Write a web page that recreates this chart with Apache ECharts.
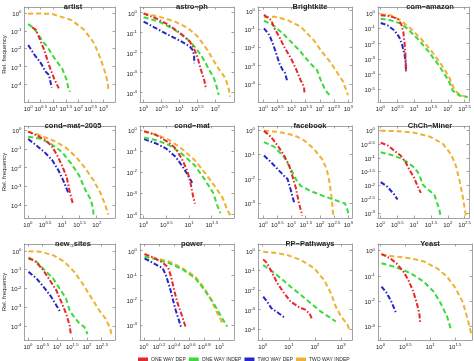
<!DOCTYPE html>
<html><head><meta charset="utf-8">
<script src="https://cdn.jsdelivr.net/npm/echarts@6/dist/echarts.min.js"></script>
<style>html,body{margin:0;padding:0;background:#fff}#c{width:474px;height:361px}</style>
</head><body><div id="c"></div>
<script>
// Panel titles (row-major, 3 rows x 4 columns)
const panelTitles = ['artist','astro\u2212ph','Brightkite','com\u2212amazon',
  'cond\u2212mat\u22122005','cond\u2212mat','facebook','ChCh\u2212Miner',
  'new_sites','power','PP\u2212Pathways','Yeast'];
const seriesNames = ['ONE WAY DEP','ONE WAY INDEP','TWO WAY DEP','TWO WAY INDEP'];

// Data points as [log10(value on x axis), log10(Rel. frequency)], one list per panel
const oneWayDep = [
  [[0.16,-0.81],[0.32,-0.96],[0.45,-1.42],[0.64,-2.07],[0.83,-2.91],[1.03,-3.65],[1.22,-4.2]],
  [[0,-0.05],[0.34,-0.28],[0.7,-0.62],[1.02,-1.03],[1.29,-1.45],[1.42,-1.87],[1.51,-2.28],[1.6,-2.87],[1.69,-3.37],[1.74,-3.83]],
  [[0.03,-0.23],[0.28,-0.51],[0.4,-0.96],[0.57,-1.42],[0.74,-1.97],[0.98,-2.6],[1.15,-3.15],[1.32,-3.79],[1.44,-4.15],[1.46,-4.55]],
  [[0.01,-0.15],[0.26,-0.2],[0.51,-0.37],[0.62,-0.74],[0.68,-1.24],[0.72,-2],[0.75,-2.98],[0.76,-3.86]],
  [[0.01,-0.09],[0.24,-0.27],[0.52,-0.54],[0.71,-0.9],[0.85,-1.34],[0.99,-1.88],[1.13,-2.51],[1.22,-3.31],[1.31,-3.94]],
  [[0.01,-0.05],[0.28,-0.24],[0.53,-0.56],[0.71,-0.88],[0.84,-1.36],[0.96,-1.92],[1.03,-2.49],[1.09,-3.13],[1.13,-3.48]],
  [[0.03,-0.03],[0.28,-0.28],[0.51,-0.63],[0.74,-1.04],[0.92,-1.46],[1.03,-1.88],[1.15,-2.36],[1.26,-2.99],[1.38,-3.51]],
  [[0.01,-0.45],[0.21,-0.55],[0.41,-0.74],[0.6,-0.92],[0.75,-1.16],[0.85,-1.41],[1,-1.72],[1.1,-2.02],[1.2,-2.27]],
  [[0.02,-0.41],[0.24,-0.53],[0.52,-1.03],[0.74,-1.56],[0.96,-2.09],[1.13,-2.71],[1.29,-3.33],[1.41,-3.95],[1.46,-4.48]],
  [[0.01,-0.13],[0.12,-0.27],[0.25,-0.48],[0.32,-0.67],[0.36,-1.05],[0.4,-1.58],[0.44,-2.06],[0.5,-2.59],[0.55,-3.06]],
  [[0.02,-0.44],[0.17,-0.64],[0.37,-1.15],[0.56,-1.65],[0.82,-2.16],[1.07,-2.59],[1.39,-2.87],[1.65,-3.01],[1.82,-3.26],[1.9,-3.52]],
  [[0.02,-0.13],[0.19,-0.3],[0.32,-0.5],[0.46,-0.83],[0.56,-1.16],[0.66,-1.62],[0.73,-2.08],[0.78,-2.47],[0.8,-2.87]]
];
const oneWayIndep = [
  [[0,-0.63],[0.19,-0.81],[0.38,-1.15],[0.58,-1.61],[0.77,-1.89],[0.96,-2.35],[1.15,-2.72],[1.35,-3.09],[1.54,-3.74],[1.6,-4.2],[1.67,-4.39]],
  [[0,-0.23],[0.43,-0.45],[0.79,-0.78],[1.15,-1.2],[1.42,-1.7],[1.6,-2.12],[1.78,-2.7],[1.96,-3.28],[2.05,-3.78],[2.09,-4.12]],
  [[0.03,-0.55],[0.34,-0.78],[0.69,-1.24],[0.98,-1.69],[1.32,-2.24],[1.61,-2.79],[1.9,-3.24],[2.03,-3.79],[2.19,-4.33],[2.34,-4.61]],
  [[0.01,-0.37],[0.31,-0.48],[0.6,-0.69],[0.8,-1.02],[1.1,-1.67],[1.4,-2.44],[1.7,-3.31],[1.99,-4.29],[2.09,-4.73],[2.14,-5.05],[2.34,-5.38],[2.59,-5.49]],
  [[0.01,-0.36],[0.34,-0.45],[0.66,-0.72],[0.99,-1.17],[1.26,-1.79],[1.49,-2.42],[1.68,-3.23],[1.82,-3.67],[1.89,-4.12],[1.91,-4.57]],
  [[0.01,-0.37],[0.28,-0.48],[0.57,-0.72],[0.84,-1.12],[1.13,-1.68],[1.34,-2.32],[1.53,-2.97],[1.63,-3.61],[1.69,-3.93]],
  [[0.03,-0.49],[0.4,-0.69],[0.74,-1.11],[0.98,-1.6],[1.15,-2.01],[1.32,-2.29],[1.67,-2.5],[2.13,-2.71],[2.47,-2.85],[2.88,-3.01],[2.96,-3.24],[3.03,-3.54]],
  [[0.01,-0.8],[0.31,-0.89],[0.6,-1.02],[0.8,-1.16],[1,-1.35],[1.15,-1.59],[1.25,-1.96],[1.4,-2.14],[1.6,-2.33],[1.68,-2.63],[1.75,-2.88],[1.79,-3.13]],
  [[0.02,-0.35],[0.29,-0.59],[0.57,-1.03],[0.85,-1.47],[1.07,-2],[1.29,-2.53],[1.41,-3.15],[1.52,-3.42],[1.74,-3.86],[1.91,-4.04],[2.02,-4.43]],
  [[0.01,-0.24],[0.17,-0.35],[0.34,-0.51],[0.51,-0.75],[0.68,-1.11],[0.8,-1.58],[0.91,-2.06],[1.01,-2.59],[1.1,-3.06]],
  [[0.02,-0.73],[0.3,-0.98],[0.69,-1.4],[1.07,-1.83],[1.46,-2.25],[1.84,-2.67],[2.23,-3.1],[2.55,-3.38],[2.8,-3.6]],
  [[0.02,-0.5],[0.26,-0.63],[0.46,-0.76],[0.66,-0.96],[0.87,-1.23],[1.07,-1.62],[1.21,-2.08],[1.34,-2.61],[1.41,-3.07]]
];
const twoWayDep = [
  [[0,-1.79],[0.26,-2.35],[0.51,-2.81],[0.7,-3.28],[0.83,-3.46],[0.9,-3.92],[0.94,-4.15]],
  [[0,-0.45],[0.34,-0.78],[0.7,-1.12],[1.06,-1.45],[1.29,-1.7],[1.38,-1.9],[1.41,-2.2],[1.41,-2.53]],
  [[0.03,-0.96],[0.22,-1.33],[0.34,-1.78],[0.46,-2.33],[0.57,-2.87],[0.69,-3.24],[0.77,-3.39],[0.84,-3.79]],
  [[0.01,-0.65],[0.21,-0.8],[0.41,-1.13],[0.56,-1.57],[0.65,-2.11],[0.72,-2.76],[0.75,-3.2],[0.76,-3.75]],
  [[0.01,-0.48],[0.24,-0.81],[0.48,-1.17],[0.71,-1.61],[0.89,-2.15],[1.03,-2.69],[1.17,-3.31]],
  [[0.01,-0.43],[0.28,-0.64],[0.5,-0.88],[0.71,-1.28],[0.84,-1.68],[0.96,-2.08],[1.07,-2.49]],
  [[0.03,-1.04],[0.28,-1.32],[0.51,-1.6],[0.74,-1.88],[0.86,-2.01],[0.95,-2.36],[1.03,-2.71],[1.09,-2.96]],
  [[0.01,-1.88],[0.21,-2.05],[0.41,-2.33],[0.51,-2.51]],
  [[0.02,-1.12],[0.29,-1.47],[0.57,-2],[0.79,-2.45],[0.96,-2.89],[1.09,-3.24]],
  [[0.01,-0.31],[0.15,-0.54],[0.25,-0.71],[0.29,-0.98],[0.34,-1.45],[0.38,-1.92],[0.42,-2.39],[0.49,-3.06]],
  [[0.02,-2.34],[0.17,-2.59],[0.33,-2.92],[0.56,-3.13],[0.82,-3.38]],
  [[0.02,-1.42],[0.12,-1.66],[0.22,-2.02],[0.31,-2.45]]
];
const twoWayIndep = [
  [[0,-0.05],[0.5,-0.04],[0.96,-0.07],[1.73,-0.41],[2.24,-0.96],[2.63,-1.7],[2.88,-2.53],[3.08,-3.37],[3.17,-3.92],[3.2,-4.29]],
  [[0,-0.03],[0.43,-0.2],[0.88,-0.45],[1.24,-0.78],[1.51,-1.2],[1.78,-1.87],[2.05,-2.7],[2.28,-3.28],[2.37,-3.78],[2.41,-4.2]],
  [[0.03,-0.36],[0.4,-0.33],[0.86,-0.51],[1.32,-0.87],[1.78,-1.6],[2.07,-2.24],[2.36,-2.79],[2.59,-3.33],[2.82,-3.88],[2.99,-4.61]],
  [[0.01,-0.08],[0.31,-0.15],[0.6,-0.48],[0.9,-1.02],[1.2,-1.67],[1.5,-2.44],[1.79,-3.31],[2.04,-4.18],[2.17,-4.88],[2.29,-5.23],[2.54,-5.49]],
  [[0.01,-0.09],[0.34,-0.27],[0.71,-0.54],[1.08,-0.9],[1.4,-1.43],[1.68,-2.06],[1.91,-2.69],[2.1,-3.31],[2.24,-3.94],[2.33,-4.48]],
  [[0.01,-0.08],[0.28,-0.21],[0.57,-0.48],[0.84,-0.88],[1.13,-1.44],[1.34,-2],[1.56,-2.64],[1.74,-3.21],[1.84,-3.76],[1.92,-4.09]],
  [[0.03,-0.03],[0.51,-0.07],[1.09,-0.21],[1.44,-0.42],[1.78,-0.76],[2.07,-1.18],[2.24,-1.6],[2.34,-2.15],[2.42,-2.85],[2.47,-3.54]],
  [[0.01,-0.02],[0.51,-0.04],[1,-0.09],[1.5,-0.25],[1.85,-0.49],[2.09,-0.86],[2.24,-1.29],[2.34,-1.78],[2.44,-2.39],[2.49,-2.76],[2.54,-3.13]],
  [[0.02,-0.03],[0.41,-0.05],[0.85,-0.23],[1.24,-0.59],[1.57,-1.12],[1.85,-1.74],[2.13,-2.45],[2.41,-3.15],[2.63,-3.6],[2.79,-4.13],[2.83,-4.48]],
  [[0.01,-0.17],[0.17,-0.31],[0.34,-0.44],[0.51,-0.71],[0.68,-1.05],[0.8,-1.52],[0.89,-1.99],[0.97,-2.52],[1.04,-2.93]],
  [[0.02,-0.05],[0.43,-0.1],[0.94,-0.22],[1.46,-0.47],[1.97,-0.89],[2.35,-1.49],[2.61,-2.16],[2.8,-2.84],[3,-3.35],[3.23,-3.72],[3.35,-4.11]],
  [[0.02,-0.17],[0.32,-0.24],[0.6,-0.3],[0.87,-0.43],[1.14,-0.7],[1.34,-1.03],[1.51,-1.49],[1.65,-2.02],[1.72,-2.47],[1.79,-3],[1.83,-3.33]]
];

// Axis extents (log10 exponents) and tick exponents per panel
const xExtent = [[-0.15,3.46],[-0.1,2.52],[-0.18,3.13],[-0.07,2.63],[-0.1,2.53],[-0.08,1.99],
  [-0.18,3.13],[-0.07,2.63],[-0.12,2.95],[-0.05,1.19],[-0.18,3.42],[-0.05,1.84]];
const yExtent = [[-4.96,0.32],[-4.47,0.28],[-4.98,0.2],[-5.81,0.39],[-4.67,0.21],[-4.16,0.19],
  [-3.61,0.17],[-3.18,0.15],[-4.74,0.36],[-3.6,0.27],[-4.54,0.34],[-3.53,0.26]];
const xTicks = [
  [0,0.5,1,1.5,2,2.5,3],[0,0.5,1,1.5,2],[0,0.5,1,1.5,2,2.5,3],[0,0.5,1,1.5,2,2.5],
  [0,0.5,1,1.5,2],[0,0.5,1,1.5],[0,0.5,1,1.5,2,2.5,3],[0,0.5,1,1.5,2,2.5],
  [0,0.5,1,1.5,2,2.5],[0,0.2,0.4,0.6,0.8,1],[0,1,2,3],[0,0.5,1,1.5]];
const yTicks = [
  [-4,-3,-2,-1,0],[-4,-3,-2,-1,0],[-4,-3,-2,-1,0],[-5,-4,-3,-2,-1,0],
  [-4,-3,-2,-1,0],[-4,-3,-2,-1,0],[-3,-2,-1,0],[-3,-2.5,-2,-1.5,-1,-0.5,0],
  [-4,-3,-2,-1,0],[-3,-2,-1,0],[-4,-3,-2,-1,0],[-3,-2,-1,0]];

const colors = ['#e8262b','#3ada3a','#2626c8','#f0b030'];
const dashes = [[5,2,1.5,2],[5,3],[5,2,1.5,2],[5,3]];
const seriesData = [oneWayDep, oneWayIndep, twoWayDep, twoWayIndep];

const colLeft = [21,140,258,378];
const rowTop = [7,126,244];
const rowH = [95,92,96];
const boxW = 94;
const axisColor = '#8c8c8c';
const textColor = '#262626';

function fmtExp(v){
  const e = Math.round(v*10)/10;
  return '{b|10}{s|' + String(e) + '}';
}
const rich = {
  b:{fontSize:6, lineHeight:6, padding:[2.5,0,0,0], color:textColor, fontFamily:'Liberation Sans'},
  s:{fontSize:4.3, lineHeight:5, verticalAlign:'top', color:textColor, fontFamily:'Liberation Sans'}
};

const grids=[], xAxes=[], yAxes=[], series=[], titles=[];
for (let p=0;p<12;p++){
  const r = Math.floor(p/4), c = p%4;
  grids.push({left:colLeft[c], top:rowTop[r], width:boxW, height:rowH[r]});
  titles.push({text:panelTitles[p], left:colLeft[c]+boxW/2, top:rowTop[r]-9, textAlign:'center',
    textStyle:{fontSize:7.5, fontWeight:'bold', color:textColor, fontFamily:'Liberation Sans'}});
  const common = {type:'value', gridIndex:p, splitLine:{show:false},
    axisLine:{show:true, onZero:false, lineStyle:{color:axisColor, width:0.8}}};
  xAxes.push(Object.assign({}, common, {min:xExtent[p][0], max:xExtent[p][1], position:'bottom',
    axisTick:{show:true, inside:true, length:2.5, customValues:xTicks[p], lineStyle:{color:axisColor, width:0.8}},
    axisLabel:{show:true, customValues:xTicks[p], margin:3, formatter:fmtExp, rich:rich}}));
  xAxes.push(Object.assign({}, common, {min:xExtent[p][0], max:xExtent[p][1], position:'top',
    axisTick:{show:true, inside:true, length:2.5, customValues:xTicks[p], lineStyle:{color:axisColor, width:0.8}},
    axisLabel:{show:false}}));
  const yMain = Object.assign({}, common, {min:yExtent[p][0], max:yExtent[p][1], position:'left',
    axisTick:{show:true, inside:true, length:2.5, customValues:yTicks[p], lineStyle:{color:axisColor, width:0.8}},
    axisLabel:{show:true, customValues:yTicks[p], margin:3, formatter:fmtExp, rich:rich}});
  if (c===0){
    yMain.name = 'Rel. frequency';
    yMain.nameLocation = 'middle';
    yMain.nameGap = 12;
    yMain.nameTextStyle = {fontSize:6, color:textColor, fontFamily:'Liberation Sans'};
  }
  yAxes.push(yMain);
  yAxes.push(Object.assign({}, common, {min:yExtent[p][0], max:yExtent[p][1], position:'right',
    axisTick:{show:true, inside:true, length:2.5, customValues:yTicks[p], lineStyle:{color:axisColor, width:0.8}},
    axisLabel:{show:false}}));
  for (let s=0;s<4;s++){
    series.push({type:'line', name:seriesNames[s], xAxisIndex:2*p, yAxisIndex:2*p,
      data:seriesData[s][p], showSymbol:false, symbol:'none', silent:true, animation:false, z:2+(3-s),
      lineStyle:{color:colors[s], width:2, type:dashes[s]}, itemStyle:{color:colors[s]}});
  }
}

const chart = echarts.init(document.getElementById('c'), null, {renderer:'canvas'});
chart.setOption({
  animation:false,
  backgroundColor:'#ffffff',
  title:titles,
  grid:grids, xAxis:xAxes, yAxis:yAxes, series:series,
  legend:{data:seriesNames, left:133, top:352, icon:'rect', itemWidth:10, itemHeight:4, itemGap:3,
    textStyle:{fontSize:5, color:textColor, fontFamily:'Liberation Sans', padding:[0,0,0,-2]}}
});
</script>
</body></html>
